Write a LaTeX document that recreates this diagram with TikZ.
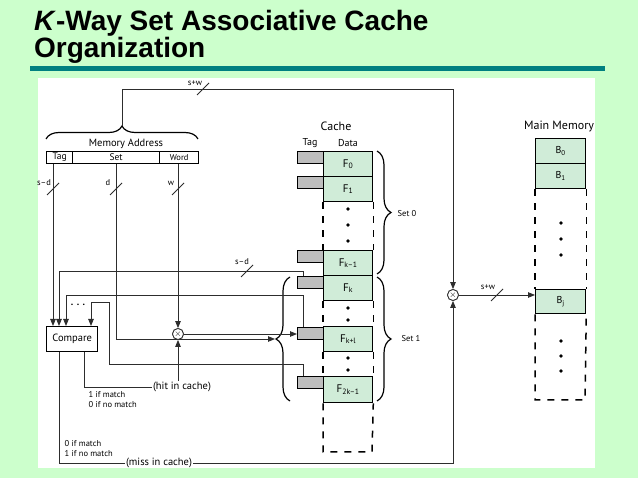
\documentclass[tikz,border=0pt]{standalone}
\usepackage{fontspec}
\setmainfont{PT Sans}
\newfontfamily\titlefont{Liberation Sans}
\usetikzlibrary{arrows.meta,decorations.pathreplacing,calc}
\definecolor{bggreen}{RGB}{204,255,204}
\definecolor{tealbar}{RGB}{0,128,128}
\definecolor{cellgreen}{RGB}{208,236,216}
\definecolor{taggray}{RGB}{190,190,190}
\definecolor{wirecol}{RGB}{45,45,45}
\tikzset{
  wire/.style={line width=0.8pt, draw=wirecol},
  arr/.style={-{Triangle[length=7pt,width=5.5pt]}},
  thickbox/.style={draw=black, line width=1.3pt},
  cell/.style={thickbox, fill=cellgreen, minimum width=49pt, minimum height=25pt, inner sep=0pt, anchor=north west, font=\fontsize{11}{12}\selectfont},
  tagbox/.style={thickbox, fill=taggray, minimum width=26pt, minimum height=12pt, inner sep=0pt, anchor=north west},
  field/.style={thickbox, fill=white, minimum height=12pt, inner sep=0pt, anchor=north west, font=\fontsize{9.5}{10}\selectfont},
  dsh/.style={line width=1.5pt, dash pattern=on 7pt off 7pt},
  cdot/.style={circle, fill=black, inner sep=0pt, minimum size=3.6pt},
  mul/.style={circle, draw=wirecol, line width=0.8pt, minimum size=11pt, inner sep=0pt, fill=white, font=\fontsize{9}{9}\selectfont},
  lbl/.style={font=\fontsize{8.5}{10}\selectfont, inner sep=0.5pt},
  hdr/.style={font=\fontsize{12}{13}\selectfont, inner sep=0pt},
  brc/.style={decorate, decoration={brace, amplitude=#1}, line width=1.2pt},
}
\newcommand\slashmark[1]{\draw[wire] ($(#1)+(-6,6)$) -- ($(#1)+(6,-6)$);}
\begin{document}
\begin{tikzpicture}[x=1pt,y=-1pt]
\fill[bggreen] (0,0) rectangle (638,478);
\useasboundingbox (0,0) rectangle (638,478);
\fill[white] (38,78) rectangle (595,468);
\fill[tealbar] (30,66) rectangle (605,71);
% title
\node[anchor=base west, inner sep=0pt, font=\titlefont\bfseries\fontsize{28}{32}\selectfont] (title1) at (34,31) {\textit{K}-Way Set Associative Cache};
\node[anchor=base west, inner sep=0pt, font=\titlefont\bfseries\fontsize{28}{32}\selectfont] (title2) at (34,58) {Organization};

% memory address
\node[field, minimum width=26pt] (mtag) at (46,151) {Tag};
\node[field, minimum width=87pt] (mset) at (72,151) {Set};
\node[field, minimum width=39pt, font=\fontsize{8.5}{9}\selectfont] (mword) at (159,151) {Word};
\node[font=\fontsize{10.5}{11}\selectfont, inner sep=0pt] (maddr) at (126,144) {Memory Address};
\draw[brc=13pt] (46,139) -- (198,139);
\coordinate (maTip) at (122,126);

% compare
\node[thickbox, fill=white, minimum width=51pt, minimum height=25pt, inner sep=0pt, anchor=north west, font=\fontsize{10.5}{11}\selectfont] (cmp) at (46,326) {Compare};
\coordinate (in1) at (53,326);
\coordinate (in2) at (59,326);
\coordinate (in3) at (66,326);
\coordinate (in4) at (91,326);
\node[font=\bfseries\fontsize{10}{10}\selectfont, inner sep=0pt] (dots) at (78,305) {. . .};

% cache
\node[hdr] (cachehdr) at (336,126) {Cache};
\node[hdr, font=\fontsize{10}{11}\selectfont] (taghdr) at (310,143) {Tag};
\node[hdr, font=\fontsize{10}{11}\selectfont] (datahdr) at (348,143) {Data};
\node[tagbox] (tag0) at (297,151) {};
\node[tagbox] (tag1) at (297,176) {};
\node[tagbox] (tagk1) at (297,250) {};
\node[tagbox] (tagk) at (297,276) {};
\node[tagbox] (tagkl) at (297,327) {};
\node[tagbox] (tag2k) at (297,376) {};
\node[cell] (f0) at (323,151) {F\textsubscript{0}};
\node[cell] (f1) at (323,176) {F\textsubscript{1}};
\node[cell] (fk1) at (323,250) {F\textsubscript{k–1}};
\node[cell] (fk) at (323,275) {F\textsubscript{k}};
\node[cell] (fkl) at (323,326) {F\textsubscript{k+l}};
\node[cell, minimum height=26pt] (f2k) at (323,376) {F\textsubscript{2k–1}};
\draw[dsh] (f1.south west) -- (fk1.north west);
\draw[dsh] (f1.south east) -- (fk1.north east);
\draw[dsh] (fk.south west) -- (fkl.north west);
\draw[dsh] (fk.south east) -- (fkl.north east);
\draw[dsh] (fkl.south west) -- (f2k.north west);
\draw[dsh] (fkl.south east) -- (f2k.north east);
\coordinate (cbl) at (323,452);
\coordinate (cbr) at (372,452);
\draw[dsh] (f2k.south west) -- (cbl) -- (cbr) -- (f2k.south east);
\node[cdot] (cd1) at (348,209) {};
\node[cdot] (cd2) at (348,225) {};
\node[cdot] (cd3) at (348,241) {};
\node[cdot] (cd4) at (348,308) {};
\node[cdot] (cd5) at (348,320) {};
\node[cdot] (cd6) at (348,358) {};
\node[cdot] (cd7) at (348,370) {};
\draw[brc=14pt] (377,151) -- (377,274);
\draw[brc=14pt] (377,277) -- (377,401);
\node[lbl, anchor=west] (set0) at (397,214) {Set 0};
\node[lbl, anchor=west] (set1) at (401,339) {Set 1};
\draw[brc=14pt] (290,401) -- (290,277);
\coordinate (btip) at (275,339);

% main memory
\node[hdr] (mmhdr) at (559,126) {Main Memory};
\node[cell, minimum width=50pt, font=\fontsize{10}{11}\selectfont] (b0) at (535,138) {B\textsubscript{0}};
\node[cell, minimum width=50pt, font=\fontsize{10}{11}\selectfont] (b1) at (535,163) {B\textsubscript{1}};
\node[cell, minimum width=50pt, minimum height=24pt, font=\fontsize{10}{11}\selectfont] (bj) at (535,289) {B\textsubscript{j}};
\draw[dsh] (b1.south west) -- (bj.north west);
\draw[dsh] (b1.south east) -- (bj.north east);
\coordinate (mbl) at (535,400);
\coordinate (mbr) at (585,400);
\draw[dsh] (bj.south west) -- (mbl) -- (mbr) -- (bj.south east);
\node[cdot] (md1) at (561,223) {};
\node[cdot] (md2) at (561,239) {};
\node[cdot] (md3) at (561,255) {};
\node[cdot] (md4) at (561,341) {};
\node[cdot] (md5) at (561,356) {};
\node[cdot] (md6) at (561,371) {};

% multipliers
\node[mul] (mul1) at (178,334) {$\times$};
\node[mul] (mul2) at (453,295) {$\times$};

% output labels
\node[font=\fontsize{10.5}{11}\selectfont, inner sep=1pt] (hit) at (182,387) {(hit in cache)};
\node[font=\fontsize{10.5}{11}\selectfont, inner sep=1pt] (miss) at (159,463) {(miss in cache)};
\node[lbl, anchor=north west, align=left] (m1) at (88,391) {1 if match\\0 if no match};
\node[lbl, anchor=north west, align=left] (m2) at (64,440) {0 if match\\1 if no match};

% coordinates for wires
\coordinate (topR) at (453,89);
\coordinate (sx) at (116,339);
\coordinate (o1) at (59,351);
\coordinate (o2) at (84,351);
\coordinate (c2) at (59,271);
\coordinate (c3) at (66,295);
\coordinate (c4a) at (109,364);
\coordinate (c4c) at (91,302);
\coordinate (tk) at ($(tagk.north west)+(6,0)$);
\coordinate (tkl) at ($(tagkl.north west)+(6,0)$);
\coordinate (t2k) at ($(tag2k.north west)+(6,0)$);

% wires
\draw[wire,arr] (maTip) |- (topR) -- (mul2.north);
\draw[wire,arr] (mtag.south -| in1) -- (in1);
\draw[wire,arr] (mset.south -| sx) -- (sx) -- (btip);
\draw[wire,arr] (mword.south -| mul1) -- (mul1.north);
\draw[wire,arr] (tk) |- (c2) -- (in2);
\draw[wire,arr] (tkl) |- (c3) -- (in3);
\draw[wire,arr] (t2k) |- (c4a) |- (c4c) -- (in4);
\draw[wire,arr] (mul1.east) -- (mul1.east -| tagkl.west);
\draw[wire,arr] (hit.north -| mul1) -- (mul1.south);
\draw[wire] (cmp.south -| o2) |- (hit.west);
\draw[wire] (cmp.south -| o1) |- (miss.west);
\draw[wire,arr] (miss.east) -| (mul2.south);
\draw[wire,arr] (mul2.east) -- (mul2.east -| bj.west);
\node[mul] at (mul1) {$\times$};
\node[mul] at (mul2) {$\times$};

% bus widths
\coordinate (sl1) at (203,89);
\slashmark{sl1}
\node[lbl] (lsw1) at (195,83) {s+w};
\coordinate (sl2) at (53,189);
\slashmark{sl2}
\node[lbl] (lsd1) at (44,183) {s–d};
\coordinate (sl3) at (116,189);
\slashmark{sl3}
\node[lbl] (ld) at (108,183) {d};
\coordinate (sl4) at (178,189);
\slashmark{sl4}
\node[lbl] (lw) at (171,183) {w};
\coordinate (sl5) at (247,271);
\slashmark{sl5}
\node[lbl] (lsd2) at (242,262) {s–d};
\coordinate (sl6) at (497,295);
\slashmark{sl6}
\node[lbl] (lsw2) at (488,287) {s+w};
\end{tikzpicture}
\end{document}
